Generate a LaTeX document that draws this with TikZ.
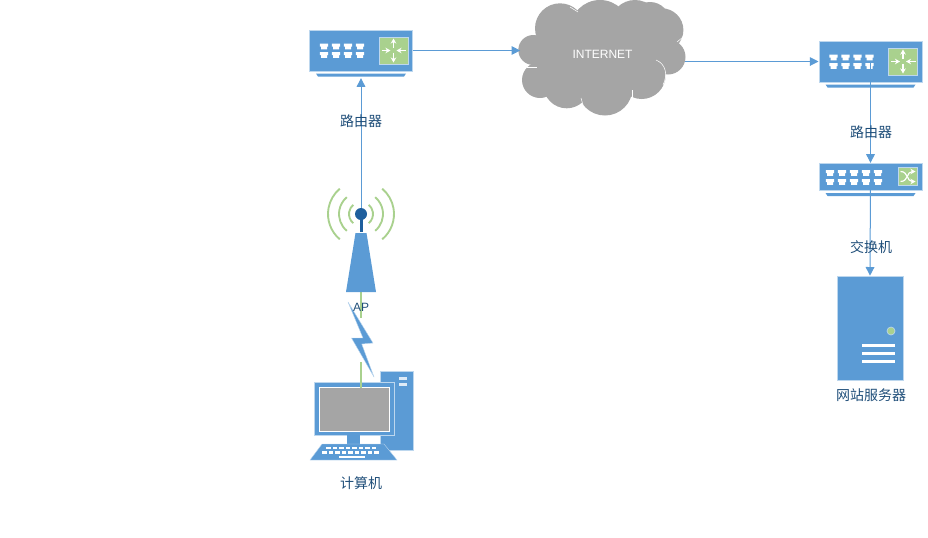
\documentclass[tikz,border=0pt]{standalone}
\usepackage{fontspec}
\setmainfont{Liberation Sans}
\newfontfamily\cjk{Noto Sans CJK SC}
\usetikzlibrary{arrows.meta, positioning, calc}
\definecolor{devblue}{HTML}{5B9BD5}
\definecolor{edgeblue}{HTML}{BDD7EE}
\definecolor{darkblue}{HTML}{1F4E79}
\definecolor{mastblue}{HTML}{1F5F9E}
\definecolor{softgreen}{HTML}{A9D18E}
\definecolor{cloudgrey}{HTML}{A5A5A5}
\tikzset{
    x=0.75pt, y=-0.75pt,
    body/.style={fill=devblue, draw=edgeblue, line width=0.5pt, inner sep=0pt, minimum width=77.5pt},
    router/.style={body, minimum height=31pt},
    switch/.style={body, minimum height=20pt},
    server/.style={body, minimum width=49.5pt, minimum height=78pt},
    hidden/.style={inner sep=0pt, outer sep=0pt},
    link/.style={devblue, line width=0.75pt, -{Triangle[length=6.5pt,width=6.5pt]}},
    air/.style={softgreen, line width=0.9pt},
    wave/.style={softgreen, line width=1.4pt},
    caption/.style={darkblue, font=\cjk\fontsize{10.5}{12}\selectfont},
    whitearrow/.style={white, line width=0.9pt, -{Stealth[length=3.8pt,width=4.2pt]}},
    port/.pic={\fill[white] (-4.2,0) -- (4.2,0) -- (4.2,3) -- (3,3) -- (3,5.8) -- (-3,5.8) -- (-3,3) -- (-4.2,3) -- cycle;},
    routerface/.pic={
        \fill[devblue] (-45,23) -- (45,23) -- (43,26) -- (-43,26) -- cycle;
        \foreach \x in {-37,-25,-13,-1} {
            \pic at (\x,-7) {port};
            \pic at (\x,1.5) {port};
        }
        \filldraw[fill=softgreen, draw=edgeblue, line width=0.7pt] (18,-13.5) rectangle (47,13.5);
        \draw[whitearrow] (32.5,-3) -- (32.5,-12);
        \draw[whitearrow] (32.5,2) -- (32.5,12);
        \draw[whitearrow] (20.5,0) -- (29.5,0);
        \draw[whitearrow] (45,0) -- (35.5,0);
    },
    switchface/.pic={
        \fill[devblue] (-45,16.5) -- (45,16.5) -- (43,19.5) -- (-43,19.5) -- cycle;
        \foreach \x in {-40.5,-28.5,-16.5,-4.5,7.5} {
            \pic at (\x,-6.5) {port};
            \pic at (\x,2.5) {port};
        }
        \filldraw[fill=softgreen, draw=edgeblue, line width=0.7pt] (28,-9) rectangle (47,9);
        \draw[whitearrow] (30,-5) .. controls (38,-5) and (36,5) .. (45,5);
        \draw[whitearrow] (30,5) .. controls (38,5) and (36,-5) .. (45,-5);
    }
}

\begin{document}
\begin{tikzpicture}
    \useasboundingbox (0,0) rectangle (928,537);

    % 1. nodes of the network
    \node[router] (router1) at (361,50.5) {};
    \node[router] (router2) at (870.5,61.5) {};
    \node[switch] (switch1) at (870.5,176.5) {};
    \node[server] (server1) at (870,328) {};
    \node[hidden, minimum width=30pt, minimum height=58.5pt] (ap1) at (361,253) {};
    \node[hidden, minimum width=77pt, minimum height=54pt] (pc1) at (361,424) {};

    % 2. cloud (one circle per lobe)
    \foreach \x/\y/\r in {560/28.3/25, 533.3/50/15, 540/80/18, 566.7/85/23.3, 605/88/27.5,
                          641.7/75/24, 668/57/17.5, 661.7/30/21.7, 600/30/30, 635/25/25, 650/22/20} {
        \fill[cloudgrey] (\x,\y) circle (\r);
    }
    \fill[cloudgrey] (602,55) ellipse (62 and 35);
    \draw[white, line width=0.4pt] (570,7) -- (578,12);
    \draw[white, line width=0.4pt] (527,67) -- (537,67);
    \draw[white, line width=0.4pt] (656,60) .. controls (666,64) and (668,75) .. (663,85);
    \draw[white, line width=0.4pt] (677,42) -- (683,37);
    \draw[white, line width=0.4pt] (581,98) -- (583,105);
    \draw[white, line width=0.4pt] (632,90) -- (632,98);
    \node[hidden, white, font=\fontsize{9}{11}\selectfont, minimum width=123.5pt, minimum height=81pt] (cloud1) at (602.5,54) {INTERNET};

    % 3. connectors
    \draw[air] (pc1.north) -- (ap1.south);
    \draw[white, line width=2.5pt] (361,317.5) -- (361,361.5);
    \draw[link, shorten >=5pt] (ap1.north) -- (router1.south);
    \draw[link] (router1.east) -- (router1.east -| cloud1.west);
    \draw[link] (cloud1.east |- router2.west) -- (router2.west);
    \draw[link] (router2.center) -- (switch1.north);
    \draw[link] (switch1.center) -- (server1.north);

    % 4. faces of the routers and of the switch
    \pic at (router1) {routerface};
    \pic at (router2) {routerface};
    \pic at (switch1) {switchface};
    \draw[link, -] (router2.center) -- ++(0,20.5);
    \draw[link, -] (switch1.center) -- ++(0,14);

    % 5. server
    \filldraw[fill=softgreen, draw=edgeblue, line width=0.5pt] (891,331) circle (4);
    \foreach \y in {345.5,353.5,361.5} {
        \draw[white, line width=1.6pt] (862,\y) -- (895,\y);
    }

    % 6. access point
    \foreach \r in {12,22,33} {
        \draw[wave] ($(361,214)+(130:\r)$) arc (130:230:\r);
        \draw[wave] ($(361,214)+(50:\r)$) arc (50:-50:\r);
    }
    \fill[devblue] (355.5,233) -- (366.5,233) -- (376,292) -- (346,292) -- cycle;
    \fill[mastblue] (359.5,214) rectangle (362.5,232);
    \fill[mastblue] (361,214) circle (6);

    % 7. lightning
    \filldraw[fill=devblue, draw=edgeblue, line width=0.3pt] (348,302) -- (373,343) -- (361.7,344) -- (374,377) -- (351.5,338) -- (363,338) -- cycle;

    % 8. computer
    \filldraw[fill=devblue, draw=edgeblue, line width=0.3pt] (380,371) rectangle (413,450);
    \fill[white!80!devblue] (399,377) rectangle (407,380);
    \fill[white!80!devblue] (399,382.5) rectangle (407,385.5);
    \filldraw[fill=devblue, draw=edgeblue, line width=0.5pt] (314,382) rectangle (394,435);
    \filldraw[fill=cloudgrey, draw=white, line width=0.6pt] (319,387) rectangle (389,431);
    \fill[devblue] (347,435) rectangle (360,444);
    \filldraw[fill=devblue, draw=edgeblue, line width=0.3pt] (322,444) -- (384,444) -- (397,460) -- (310,460) -- cycle;
    \foreach \x in {326,332.5,...,374} {
        \fill[white] (\x,447) rectangle ++(4.5,2.4);
    }
    \foreach \x in {322,328.5,...,380} {
        \fill[white] (\x,451) rectangle ++(4.5,2.6);
    }
    \fill[white] (338.5,455.5) rectangle (365,458);
    \draw[air] (361,362) -- (pc1.north);

    % 9. captions
    \node[caption] (label1) at (361,121) {路由器};
    \node[caption] (label2) at (871,132) {路由器};
    \node[caption] (label3) at (871,247) {交换机};
    \node[caption] (label4) at (871,395) {网站服务器};
    \node[caption] (label5) at (361,483) {计算机};
    \node[darkblue, font=\fontsize{9}{11}\selectfont] (label6) at (361,307) {AP};
\end{tikzpicture}
\end{document}
